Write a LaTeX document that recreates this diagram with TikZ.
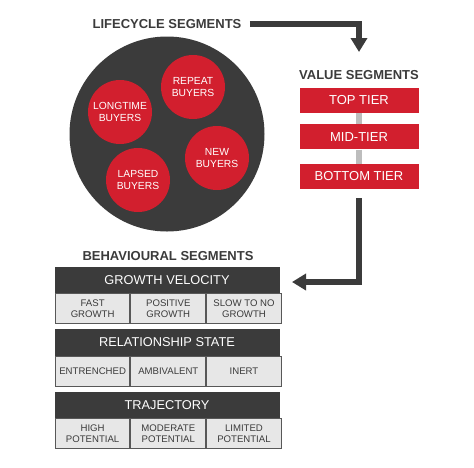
\documentclass[tikz,border=0pt]{standalone}
\usepackage{fontspec}
\setmainfont{Liberation Sans}
\usetikzlibrary{arrows.meta,positioning}
\definecolor{segred}{HTML}{D21F2E}
\definecolor{segdark}{HTML}{3B3B3B}
\definecolor{seglight}{HTML}{E7E7E7}
\definecolor{seggrey}{HTML}{BDBDBD}
\tikzstyle{title}=[font=\bfseries\fontsize{13}{15}\selectfont,text=segdark]
\tikzstyle{buyer}=[circle,fill=segred,minimum size=64pt,inner sep=0pt,text=white,align=center,font=\fontsize{10.3}{11.5}\selectfont]
\tikzstyle{tier}=[fill=segred,text=white,minimum width=119pt,minimum height=25pt,font=\fontsize{13}{15}\selectfont]
\tikzstyle{head}=[draw=segdark,fill=segdark,text=white,minimum width=224pt,minimum height=26pt,font=\fontsize{12.8}{15}\selectfont]
\tikzstyle{cell}=[draw=segdark!85,line width=1pt,fill=seglight,text=segdark,minimum width=74.67pt,minimum height=30pt,align=center,inner sep=1pt,font=\fontsize{9.6}{10.5}\selectfont]
\tikzstyle{flow}=[line width=6pt,draw=segdark,-{Triangle[length=14pt,width=16pt]}]
\begin{document}
\begin{tikzpicture}[x=1pt,y=-1pt]
    \useasboundingbox (0,0) rectangle (474,467);
    
    % lifecycle
    \node[title] (life) at (167,24) {LIFECYCLE SEGMENTS};
    \node[circle,fill=segdark,minimum size=195pt] (pool) at (167,134) {};
    \node[buyer] (repeat)   at (193,87)  {REPEAT\\BUYERS};
    \node[buyer] (longtime) at (120,112) {LONGTIME\\BUYERS};
    \node[buyer] (new)      at (217,158) {NEW\\BUYERS};
    \node[buyer] (lapsed)   at (138,180) {LAPSED\\BUYERS};
    
    % value
    \node[title] (value) at (359,75) {VALUE SEGMENTS};
    \node[tier] (top) at (359,100.5) {TOP TIER};
    \node[tier] (mid) [below=11pt of top] {MID-TIER};
    \node[tier] (bottom) [below=14pt of mid] {BOTTOM TIER};
    \draw[seggrey,line width=6pt] (top) -- (mid) (mid) -- (bottom);
    
    \coordinate (vtip) at (359,52);
    \coordinate (btip) at (292,282);
    \draw[flow] ([xshift=5pt]life.east) -| (vtip);
    \draw[flow] ([yshift=-9pt]bottom.south) |- (btip);
    
    % behavioural
    \node[title] (behav) at (168,256) {BEHAVIOURAL SEGMENTS};
    \foreach \i/\y/\name/\a/\b/\c in {1/280/GROWTH VELOCITY/{FAST\\GROWTH}/{POSITIVE\\GROWTH}/{SLOW TO NO\\GROWTH},
        2/342.5/RELATIONSHIP STATE/ENTRENCHED/AMBIVALENT/INERT,
        3/405/TRAJECTORY/{HIGH\\POTENTIAL}/{MODERATE\\POTENTIAL}/{LIMITED\\POTENTIAL}}{
        \node[head] (head\i) at (167,\y) {\name};
        \node[cell,anchor=north west] (a\i) at (head\i.south west) {\a};
        \node[cell,anchor=west] (b\i) at (a\i.east) {\b};
        \node[cell,anchor=west] (c\i) at (b\i.east) {\c};
    }
    
\end{tikzpicture}
\end{document}
